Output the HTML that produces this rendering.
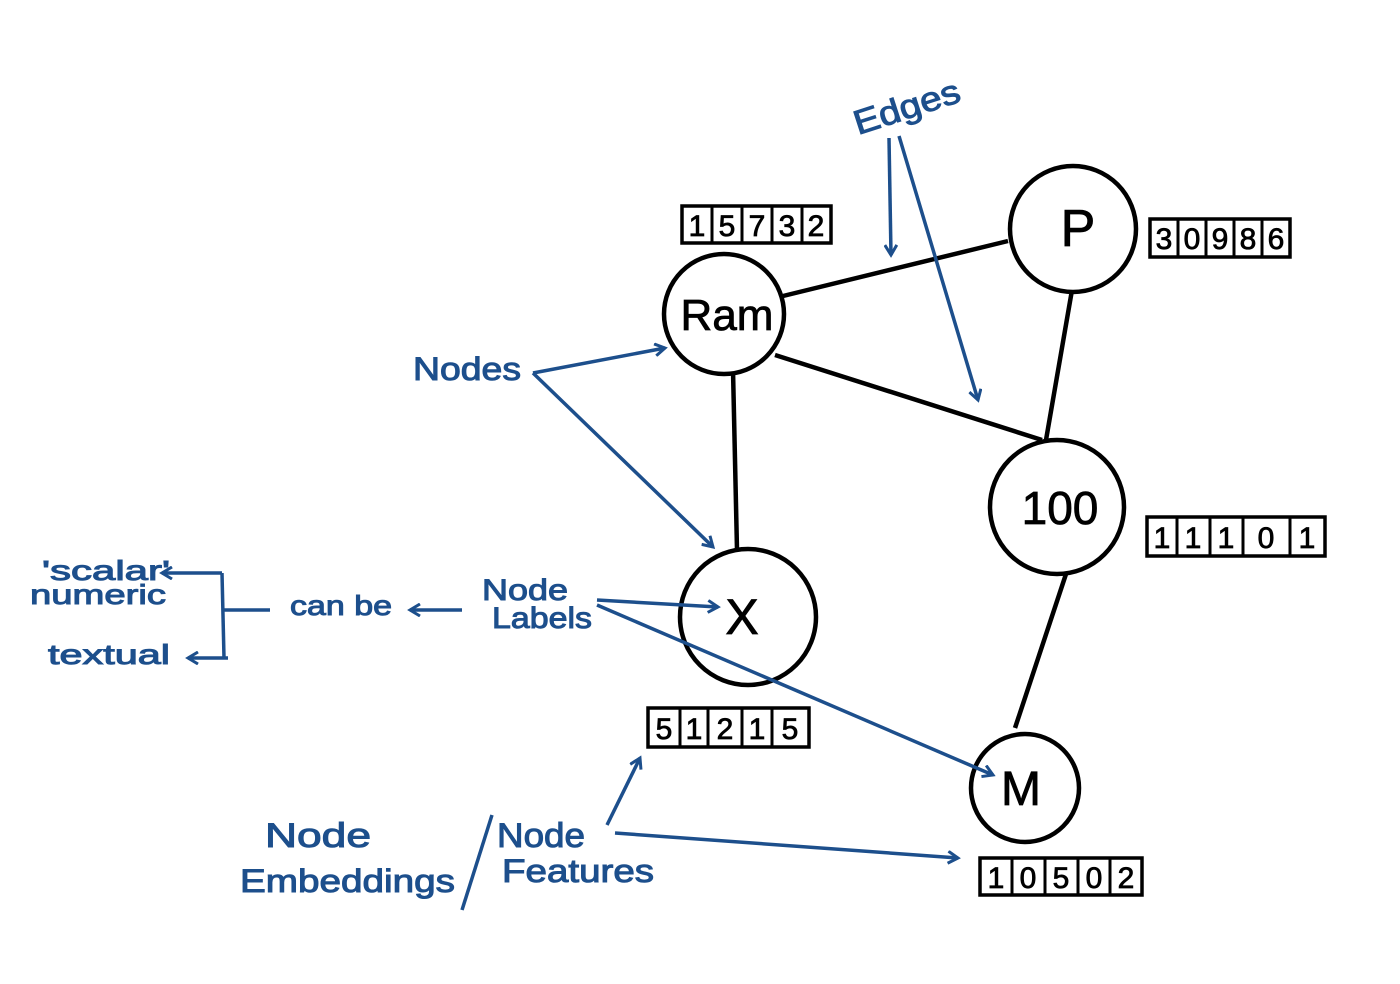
<!DOCTYPE html>
<html><head><meta charset="utf-8"><style>
html,body{margin:0;padding:0;background:#fff;}
svg{display:block;}
.b{fill:#1d4f8c;stroke:#1d4f8c;stroke-width:1;font-family:"Liberation Sans",sans-serif;font-size:30px;}
.k{font-family:"Liberation Sans",sans-serif;fill:#000;}
</style></head><body>
<svg width="1400" height="984" viewBox="0 0 1400 984" xmlns="http://www.w3.org/2000/svg">
<defs>
<marker id="a" markerWidth="14" markerHeight="14" refX="11" refY="7" orient="auto" markerUnits="userSpaceOnUse">
<path d="M1,1 L11,7 L1,13" fill="none" stroke="#1d4f8c" stroke-width="3"/>
</marker>
</defs>
<g stroke="#000" stroke-width="4.5" fill="none">
<line x1="783" y1="296" x2="1008" y2="241"/>
<line x1="775" y1="355" x2="1042" y2="440"/>
<line x1="733" y1="370" x2="737" y2="550"/>
<line x1="1072" y1="290" x2="1046" y2="440"/>
<line x1="1066" y1="574" x2="1015" y2="728"/>
<circle cx="724" cy="314" r="60" fill="#fff"/>
<circle cx="1073" cy="229" r="63" fill="#fff"/>
<circle cx="1057" cy="507" r="67" fill="#fff"/>
<circle cx="748" cy="617" r="68" fill="none"/>
<circle cx="1025" cy="788" r="54" fill="#fff"/>
</g>
<g class="k" text-anchor="middle" stroke="#000" stroke-width="0.8">
<text x="727" y="330" font-size="44">Ram</text>
<text x="1078" y="246" font-size="52">P</text>
<text x="1060" y="524" font-size="46">100</text>
<text x="742" y="634" font-size="50">X</text>
<text x="1021" y="805" font-size="48">M</text>
</g>
<g stroke="#000" stroke-width="3.5" fill="#fff">
<rect x="682" y="206" width="149" height="37"/>
<rect x="1150" y="219" width="140" height="38"/>
<rect x="1147" y="517" width="178" height="39"/>
<rect x="648" y="708" width="161" height="39"/>
<rect x="980" y="858" width="162" height="37"/>
</g>
<g stroke="#000" stroke-width="3">
<line x1="712" y1="206" x2="712" y2="243"/><line x1="742" y1="206" x2="742" y2="243"/><line x1="772" y1="206" x2="772" y2="243"/><line x1="802" y1="206" x2="802" y2="243"/>
<line x1="1178" y1="219" x2="1178" y2="257"/><line x1="1206" y1="219" x2="1206" y2="257"/><line x1="1234" y1="219" x2="1234" y2="257"/><line x1="1262" y1="219" x2="1262" y2="257"/>
<line x1="1177" y1="517" x2="1177" y2="556"/><line x1="1210" y1="517" x2="1210" y2="556"/><line x1="1243" y1="517" x2="1243" y2="556"/><line x1="1290" y1="517" x2="1290" y2="556"/>
<line x1="680" y1="708" x2="680" y2="747"/><line x1="708" y1="708" x2="708" y2="747"/><line x1="742" y1="708" x2="742" y2="747"/><line x1="772" y1="708" x2="772" y2="747"/>
<line x1="1012" y1="858" x2="1012" y2="895"/><line x1="1045" y1="858" x2="1045" y2="895"/><line x1="1078" y1="858" x2="1078" y2="895"/><line x1="1110" y1="858" x2="1110" y2="895"/>
</g>
<g class="k" font-size="30" text-anchor="middle" stroke="#000" stroke-width="0.8">
<text x="697" y="236">1</text><text x="727" y="236">5</text><text x="757" y="236">7</text><text x="787" y="236">3</text><text x="816" y="236">2</text>
<text x="1164" y="249">3</text><text x="1192" y="249">0</text><text x="1220" y="249">9</text><text x="1248" y="249">8</text><text x="1276" y="249">6</text>
<text x="1162" y="548">1</text><text x="1193" y="548">1</text><text x="1226" y="548">1</text><text x="1266" y="548">0</text><text x="1307" y="548">1</text>
<text x="664" y="739">5</text><text x="694" y="739">1</text><text x="725" y="739">2</text><text x="757" y="739">1</text><text x="790" y="739">5</text>
<text x="996" y="888">1</text><text x="1028" y="888">0</text><text x="1061" y="888">5</text><text x="1094" y="888">0</text><text x="1126" y="888">2</text>
</g>
<g stroke="#1d4f8c" stroke-width="3.5" fill="none" marker-end="url(#a)">
<line x1="889" y1="138" x2="891" y2="255"/>
<line x1="899" y1="136" x2="978" y2="400"/>
<line x1="533" y1="373" x2="665" y2="348"/>
<line x1="533" y1="373" x2="713" y2="547"/>
<line x1="597" y1="600" x2="718" y2="607"/>
<line x1="597" y1="605" x2="993" y2="775"/>
<line x1="462" y1="610" x2="410" y2="610"/>
<line x1="222" y1="573" x2="162" y2="573"/>
<line x1="228" y1="658" x2="188" y2="658"/>
<line x1="607" y1="825" x2="640" y2="758"/>
<line x1="615" y1="833" x2="958" y2="858"/>
</g>
<g stroke="#1d4f8c" stroke-width="3.5" fill="none">
<line x1="270" y1="610" x2="222" y2="610"/>
<line x1="222" y1="573" x2="224" y2="658"/>
<line x1="492" y1="815" x2="462" y2="910"/>
</g>
<g class="b">
<text x="858" y="135" transform="rotate(-18 858 135)" font-size="34" textLength="110" lengthAdjust="spacingAndGlyphs">Edges</text>
<text x="413" y="380" font-size="32" textLength="108" lengthAdjust="spacingAndGlyphs">Nodes</text>
<text x="482" y="600" font-size="30" textLength="86" lengthAdjust="spacingAndGlyphs">Node</text>
<text x="492" y="628" font-size="30" textLength="100" lengthAdjust="spacingAndGlyphs">Labels</text>
<text x="290" y="615" font-size="28" textLength="102" lengthAdjust="spacingAndGlyphs">can be</text>
<text x="42" y="580" font-size="28" textLength="128" lengthAdjust="spacingAndGlyphs">'scalar'</text>
<text x="30" y="604" font-size="28" textLength="136" lengthAdjust="spacingAndGlyphs">numeric</text>
<text x="48" y="664" font-size="28" textLength="122" lengthAdjust="spacingAndGlyphs">textual</text>
<text x="265" y="847" font-size="34" textLength="106" lengthAdjust="spacingAndGlyphs">Node</text>
<text x="240" y="892" font-size="32" textLength="215" lengthAdjust="spacingAndGlyphs">Embeddings</text>
<text x="497" y="847" font-size="34" textLength="88" lengthAdjust="spacingAndGlyphs">Node</text>
<text x="502" y="882" font-size="32" textLength="152" lengthAdjust="spacingAndGlyphs">Features</text>
</g>
</svg>
</body></html>
